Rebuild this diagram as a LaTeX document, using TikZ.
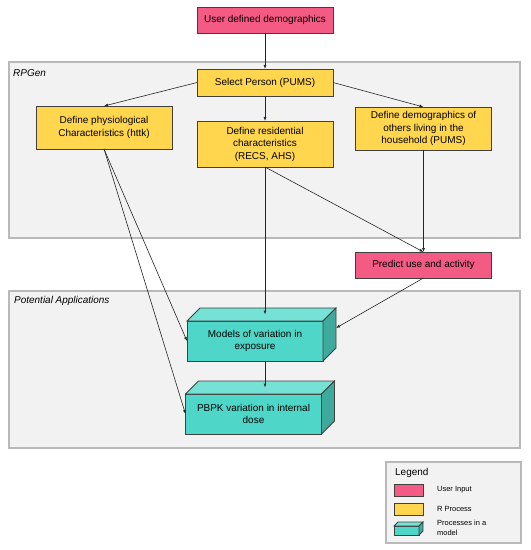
\documentclass[tikz,border=0pt]{standalone}
\usepackage{fontspec}
\setmainfont{Liberation Sans}
\usepackage{tikz}
\usetikzlibrary{arrows.meta, positioning, calc}

\definecolor{userpink}{RGB}{243,90,132}
\definecolor{rgold}{RGB}{255,214,77}
\definecolor{tealfront}{RGB}{78,215,200}
\definecolor{tealtop}{RGB}{118,226,214}
\definecolor{tealside}{RGB}{62,170,158}
\definecolor{panelfill}{RGB}{242,242,242}
\definecolor{paneldraw}{RGB}{185,185,185}
\definecolor{edgegray}{RGB}{64,64,64}

% top and side faces of a box node
\newcommand{\boxfaces}[2]{%
  \filldraw[boxline, fill=tealtop] (#1.north west) -- ([shift={(#2,-#2)}]#1.north west) -- ([shift={(#2,-#2)}]#1.north east) -- (#1.north east) -- cycle;
  \filldraw[boxline, fill=tealside] (#1.north east) -- ([shift={(#2,-#2)}]#1.north east) -- ([shift={(#2,-#2)}]#1.south east) -- (#1.south east) -- cycle;}

\begin{document}
\begin{tikzpicture}[x=1bp, y=-1bp,
    arrow/.style={-{Latex[length=4bp, width=3bp]}, line width=0.6bp, draw=black!85},
    boxline/.style={draw=edgegray, line width=0.8bp},
    panel/.style={draw=paneldraw, fill=panelfill, line width=1.2bp},
    proc/.style={boxline, minimum width=136bp, inner sep=0pt, outer sep=0pt, align=center,
                 font=\fontsize{10}{12.5}\selectfont},
    userin/.style={proc, fill=userpink},
    rproc/.style={proc, fill=rgold},
    modelbox/.style={proc, fill=tealfront, minimum height=40bp},
    title/.style={anchor=west, inner sep=0pt, font=\fontsize{10}{12}\selectfont\itshape},
    legtext/.style={anchor=west, inner sep=0pt, align=left, font=\fontsize{7.5}{9.5}\selectfont}]
    \useasboundingbox (0,0) rectangle (531,550);

    % Panels
    \draw[panel] (9,62) rectangle (520,238);
    \node[title] (rpgen) at (13,73) {RPGen};
    \draw[panel] (9,291) rectangle (520,448);
    \node[title] (apps) at (14,301) {Potential Applications};

    % Boxes
    \node[userin, minimum height=26bp] (user) at (265,20) {User defined demographics};
    \node[rproc, minimum height=27bp] (sel) at (265,82.5) {Select Person (PUMS)};
    \node[rproc, minimum height=43bp] (phys) at (104,127.5) {Define physiological\\Characteristics (httk)};
    \node[rproc, minimum height=46bp] (res) at (265,144) {Define residential\\characteristics\\(RECS, AHS)};
    \node[rproc, minimum height=43bp] (dem) at (423.5,128.5) {Define demographics of\\others living in the\\household (PUMS)};
    \node[userin, minimum height=26bp] (pred) at (423.5,265) {Predict use and activity};

    \node[modelbox] (mod) at (255,341) {Models of variation in\\exposure};
    \boxfaces{mod}{13}
    \node[modelbox] (pbpk) at (253.5,414) {PBPK variation in internal\\dose};
    \boxfaces{pbpk}{13}
    \coordinate (modtop) at ([shift={(6.5,-6.5)}]mod.north);
    \coordinate (modback) at ([shift={(13,-13)}]mod.east);
    \coordinate (pbpktop) at ([shift={(6.5,-6.5)}]pbpk.north);

    % Arrows
    \draw[arrow] (user) -- (sel);
    \draw[arrow] (sel.west) -- (phys.north);
    \draw[arrow] (sel) -- (res);
    \draw[arrow] (sel.east) -- (dem.north);
    \draw[arrow] (res.south) -- (res.south |- modtop);
    \draw[arrow] (res.south) -- (pred.north);
    \draw[arrow] (dem) -- (pred);
    \draw[arrow] (phys.south) -- (mod.west);
    \draw[arrow] (phys.south) -- (pbpk.west);
    \draw[arrow] (pred.south) -- (modback);
    \draw[arrow] (mod.south -| res.south) -- (res.south |- pbpktop);

    % Legend
    \draw[panel] (386,462) rectangle (521,543);
    \node[anchor=west, inner sep=0pt, font=\fontsize{10}{12}\selectfont] (leg) at (395,473) {Legend};
    \node[boxline, fill=userpink, minimum width=29bp, minimum height=12bp, inner sep=0pt, outer sep=0pt] (legu) at (408.5,490) {};
    \node[boxline, fill=rgold, minimum width=29bp, minimum height=12bp, inner sep=0pt, outer sep=0pt] (legr) at (408.5,509) {};
    \node[boxline, fill=tealfront, minimum width=25bp, minimum height=9bp, inner sep=0pt, outer sep=0pt] (legm) at (406.5,530.5) {};
    \boxfaces{legm}{4}
    \node[legtext] at (437,490) {User Input};
    \node[legtext] at (437,509) {R Process};
    \node[legtext] at (437,528) {Processes in a\\model};
\end{tikzpicture}
\end{document}
